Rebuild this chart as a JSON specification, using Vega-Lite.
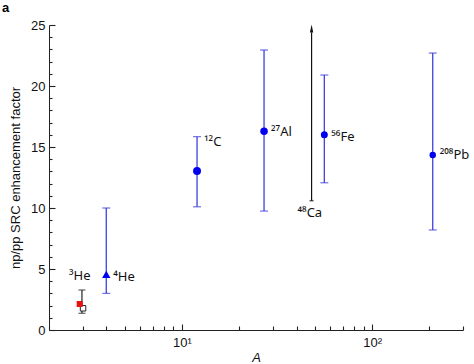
{
  "$schema": "https://vega.github.io/schema/vega-lite/v6.json",
  "width": 414,
  "height": 305,
  "autosize": {"type": "none"},
  "padding": {"left": 49, "top": 25, "right": 11, "bottom": 34},
  "background": "white",
  "config": {
    "view": {"stroke": null},
    "font": "Liberation Sans",
    "axis": {"grid": false, "domainColor": "#222", "tickColor": "#222", "labelColor": "#111", "titleColor": "#111", "labelFontSize": 13, "titleFontSize": 13, "titleFontWeight": "normal", "domainWidth": 1, "tickWidth": 1.1}
  },
  "title": {"text": "a", "anchor": "start", "frame": "group", "dx": -47, "offset": 4, "fontSize": 13, "fontWeight": "bold", "color": "#000"},
  "resolve": {"axis": {"y": "independent"}},
  "datasets": {
    "blue": [
      {"nuc": "4He", "A": 4, "v": 4.56, "lo": 3.0, "hi": 10.0},
      {"nuc": "12C", "A": 12, "v": 13.03, "lo": 10.1, "hi": 15.85},
      {"nuc": "27Al", "A": 27, "v": 16.3, "lo": 9.75, "hi": 22.95},
      {"nuc": "56Fe", "A": 56, "v": 16.0, "lo": 12.07, "hi": 20.9},
      {"nuc": "208Pb", "A": 208, "v": 14.34, "lo": 8.2, "hi": 22.7}
    ],
    "he3bar": [{"A": 2.98, "lo": 1.37, "hi": 3.28}],
    "he3open": [{"A": 3.02, "v": 1.78}],
    "he3red": [{"A": 2.9, "v": 2.13, "lo": 1.95, "hi": 2.35}],
    "ca": [{"A": 48, "lo": 10.6, "hi": 24.4, "tip": 24.72}],
    "labels": [
      {"t": "³He", "A": 2.9, "y": 4.45, "pos": "c"},
      {"t": "⁴He", "A": 4, "y": 4.35, "pos": "r"},
      {"t": "¹²C", "A": 12, "y": 15.45, "pos": "r"},
      {"t": "²⁷Al", "A": 27, "y": 16.25, "pos": "r"},
      {"t": "⁵⁶Fe", "A": 56, "y": 15.85, "pos": "r"},
      {"t": "²⁰⁸Pb", "A": 208, "y": 14.34, "pos": "r"},
      {"t": "⁴⁸Ca", "A": 47, "y": 9.56, "pos": "c"}
    ]
  },
  "layer": [
    {
      "data": {"name": "blue"},
      "mark": {"type": "rule", "color": "#4040dd", "strokeWidth": 1.3},
      "encoding": {
        "x": {"field": "A", "type": "quantitative", "scale": {"type": "log", "domain": [2, 300], "nice": false},
          "axis": {"title": "A", "titleFontStyle": "italic", "titleY": 31, "titleBaseline": "alphabetic",
            "values": [2, 3, 4, 5, 6, 7, 8, 9, 10, 20, 30, 40, 50, 60, 70, 80, 90, 100, 200, 300],
            "labelExpr": "datum.value == 10 ? '10¹' : datum.value == 100 ? '10²' : ''",
            "labelOverlap": false,
            "tickSize": {"condition": {"test": "datum.value == 10 || datum.value == 100", "value": -6}, "value": -4},
            "labelPadding": 12, "labelFlush": false}},
        "y": {"field": "lo", "type": "quantitative", "scale": {"domain": [0, 25], "nice": false},
          "axis": {"title": "np/pp SRC enhancement factor", "titlePadding": 8, "orient": "left",
            "values": [0, 5, 10, 15, 20, 25],
            "labelOverlap": false,
            "tickSize": -6,
            "labelPadding": 10}},
        "y2": {"field": "hi"}
      }
    },
    {
      "data": {"name": "blue"},
      "mark": {"type": "tick", "orient": "horizontal", "color": "#4040dd", "size": 8, "thickness": 1.3},
      "encoding": {
        "x": {"field": "A", "type": "quantitative"},
        "y": {"field": "lo", "type": "quantitative", "axis": {"orient": "left", "title": null, "labels": false, "domain": false, "tickSize": -3,
          "values": [1, 2, 3, 4, 6, 7, 8, 9, 11, 12, 13, 14, 16, 17, 18, 19, 21, 22, 23, 24]}}
      }
    },
    {
      "data": {"name": "blue"},
      "mark": {"type": "tick", "orient": "horizontal", "color": "#4040dd", "size": 8, "thickness": 1.3},
      "encoding": {
        "x": {"field": "A", "type": "quantitative"},
        "y": {"field": "hi", "type": "quantitative", "axis": null}
      }
    },
    {
      "data": {"name": "blue"},
      "mark": {"type": "point", "filled": true, "color": "#0000ee", "opacity": 1},
      "encoding": {
        "x": {"field": "A", "type": "quantitative"},
        "y": {"field": "v", "type": "quantitative", "axis": null},
        "shape": {"field": "nuc", "type": "nominal", "scale": {"domain": ["4He", "12C", "27Al", "56Fe", "208Pb"], "range": ["triangle-up", "circle", "circle", "circle", "circle"]}, "legend": null},
        "size": {"field": "nuc", "type": "nominal", "scale": {"domain": ["4He", "12C", "27Al", "56Fe", "208Pb"], "range": [70, 42, 42, 42, 42]}, "legend": null}
      }
    },
    {
      "data": {"name": "he3bar"},
      "mark": {"type": "rule", "color": "#222", "strokeWidth": 1.2},
      "encoding": {
        "x": {"field": "A", "type": "quantitative"},
        "y": {"field": "lo", "type": "quantitative", "axis": null},
        "y2": {"field": "hi"}
      }
    },
    {
      "data": {"name": "he3bar"},
      "mark": {"type": "tick", "orient": "horizontal", "color": "#222", "size": 7, "thickness": 1.2},
      "encoding": {
        "x": {"field": "A", "type": "quantitative"},
        "y": {"field": "lo", "type": "quantitative", "axis": null}
      }
    },
    {
      "data": {"name": "he3bar"},
      "mark": {"type": "tick", "orient": "horizontal", "color": "#222", "size": 7, "thickness": 1.2},
      "encoding": {
        "x": {"field": "A", "type": "quantitative"},
        "y": {"field": "hi", "type": "quantitative", "axis": null}
      }
    },
    {
      "data": {"name": "he3open"},
      "mark": {"type": "square", "filled": true, "fill": "white", "stroke": "#222", "strokeWidth": 1, "size": 30, "opacity": 1},
      "encoding": {
        "x": {"field": "A", "type": "quantitative"},
        "y": {"field": "v", "type": "quantitative", "axis": null}
      }
    },
    {
      "data": {"name": "he3red"},
      "mark": {"type": "rule", "color": "#e81010", "strokeWidth": 1.3},
      "encoding": {
        "x": {"field": "A", "type": "quantitative"},
        "y": {"field": "lo", "type": "quantitative", "axis": null},
        "y2": {"field": "hi"}
      }
    },
    {
      "data": {"name": "he3red"},
      "mark": {"type": "square", "filled": true, "color": "#e81010", "size": 36, "opacity": 1},
      "encoding": {
        "x": {"field": "A", "type": "quantitative"},
        "y": {"field": "v", "type": "quantitative", "axis": null}
      }
    },
    {
      "data": {"name": "ca"},
      "mark": {"type": "rule", "color": "#111", "strokeWidth": 1.2},
      "encoding": {
        "x": {"field": "A", "type": "quantitative"},
        "y": {"field": "lo", "type": "quantitative", "axis": null},
        "y2": {"field": "hi"}
      }
    },
    {
      "data": {"name": "ca"},
      "mark": {"type": "tick", "orient": "horizontal", "color": "#111", "size": 4, "thickness": 1.5},
      "encoding": {
        "x": {"field": "A", "type": "quantitative"},
        "y": {"field": "lo", "type": "quantitative", "axis": null}
      }
    },
    {
      "data": {"name": "ca"},
      "mark": {"type": "point", "filled": true, "color": "#111", "opacity": 1, "size": 64, "shape": "M0,-1L0.42,1L-0.42,1Z", "clip": false},
      "encoding": {
        "x": {"field": "A", "type": "quantitative"},
        "y": {"field": "tip", "type": "quantitative", "axis": null}
      }
    },
    {
      "data": {"name": "labels"},
      "transform": [{"filter": "datum.pos == 'r'"}],
      "mark": {"type": "text", "align": "left", "baseline": "middle", "dx": 7, "fontSize": 13, "font": "Noto Sans", "color": "#111"},
      "encoding": {
        "x": {"field": "A", "type": "quantitative"},
        "y": {"field": "y", "type": "quantitative", "axis": null},
        "text": {"field": "t"}
      }
    },
    {
      "data": {"name": "labels"},
      "transform": [{"filter": "datum.pos == 'c'"}],
      "mark": {"type": "text", "align": "center", "baseline": "middle", "fontSize": 13, "font": "Noto Sans", "color": "#111"},
      "encoding": {
        "x": {"field": "A", "type": "quantitative"},
        "y": {"field": "y", "type": "quantitative", "axis": null},
        "text": {"field": "t"}
      }
    }
  ]
}
